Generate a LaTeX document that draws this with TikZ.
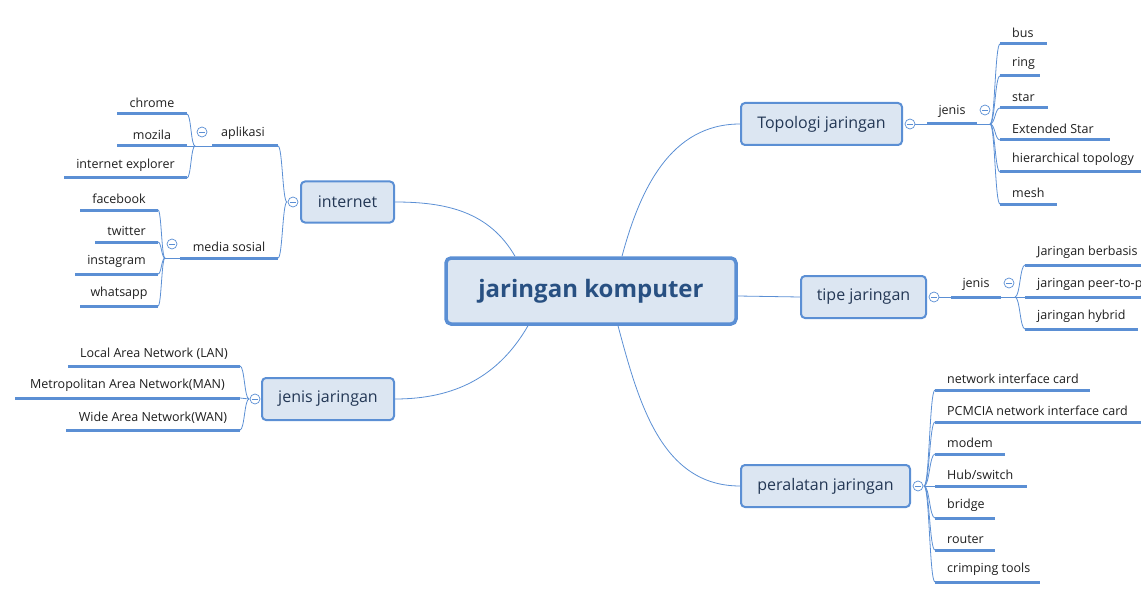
\documentclass[tikz,border=0pt]{standalone}
\usepackage{fontspec}
\setmainfont{Open Sans}
\usetikzlibrary{calc}
\definecolor{ln}{RGB}{91,143,212}
\definecolor{bx}{RGB}{220,230,242}
\definecolor{tx}{RGB}{30,30,30}
\definecolor{btx}{RGB}{35,55,85}
\definecolor{ctx}{RGB}{40,80,130}
\tikzset{
  conn/.style={draw=ln,line width=0.8pt},
  ul/.style={draw=ln,line width=3pt},
  lt/.style={font=\fontsize{12.5}{14}\selectfont,text=tx,inner sep=0pt},
  topic/.style={draw=ln,fill=bx,line width=2pt,rounded corners=4pt,font=\fontsize{16}{19}\selectfont,text=btx,inner sep=0pt},
  mn/.style={circle,draw=ln,fill=white,line width=0.7pt,minimum size=10pt,inner sep=0pt,
    path picture={\draw[ln,line width=0.7pt] ([xshift=-3pt]path picture bounding box.center)--([xshift=3pt]path picture bounding box.center);}},
}
\newcommand{\brc}[2]{\draw[conn] (#1) .. controls ($(#1)!0.5!(#1 -| #2)$) and ($(#2)!0.5!(#2 -| #1)$) .. (#2);}
\newcommand{\rleaf}[5]{\coordinate (#1) at (#2,#4); \draw[ul] (#2,#4)--(#3,#4); \node[lt,anchor=south west] (#1t) at (#2+12,#4-6) {#5};}
\newcommand{\lleaf}[5]{\coordinate (#1) at (#3,#4); \draw[ul] (#2,#4)--(#3,#4); \node[lt,anchor=south] (#1t) at ({(#2+#3)/2},#4-6) {#5};}
\begin{document}
\begin{tikzpicture}[x=1pt,y=-1pt]
\useasboundingbox (0,0) rectangle (1141,599);
\clip (0,0) rectangle (1141,599);
\node[draw=ln,fill=bx,line width=3.5pt,rounded corners=5pt,minimum width=290pt,minimum height=66pt,font=\fontsize{24}{28}\selectfont\bfseries,text=ctx] (c) at (591,291) {jaringan komputer};
\node[topic,minimum width=161pt,minimum height=42pt] (top) at (821.5,124) {Topologi jaringan};
\node[topic,minimum width=125pt,minimum height=42pt] (tip) at (863.5,297) {tipe jaringan};
\node[topic,minimum width=169pt,minimum height=42pt] (per) at (825.5,486) {peralatan jaringan};
\node[topic,minimum width=93pt,minimum height=41pt] (int) at (347.5,202) {internet};
\node[topic,minimum width=132pt,minimum height=42pt] (jj) at (328,399) {jenis jaringan};
\draw[conn] (c.north)++(31,0) coordinate (c1) (c1) to[out=75,in=180] (top.west);
\draw[conn] ([yshift=-5pt]c.east) -- (tip.west);
\draw[conn] (c.south)++(27,0) coordinate (c3) (c3) to[out=-75,in=180] (per.west);
\draw[conn] (c.north)++(-76,0) coordinate (c4) (c4) to[out=120,in=0] (int.east);
\draw[conn] (c.south)++(-63,0) coordinate (c5) (c5) to[out=-120,in=0] (jj.east);
\node[mn] (m1) at (910,124) {};
\draw[conn] (m1.east) -- (990,124) coordinate (b1);
\draw[ul] (927,124) -- (977,124);
\node[lt,anchor=south] (j1) at (952,118) {jenis};
\node[mn] (m1b) at (985,110) {};
\rleaf{t1}{1000}{1047}{44}{bus}
\rleaf{t2}{1000}{1040}{76}{ring}
\rleaf{t3}{1000}{1048}{108}{star}
\rleaf{t4}{1000}{1110}{140}{Extended Star}
\rleaf{t5}{1000}{1141}{172}{hierarchical topology}
\rleaf{t6}{1000}{1057}{204}{mesh}
\foreach \i in {1,...,6}{\brc{b1}{t\i}}
\node[mn] (m2) at (934,297) {};
\draw[conn] (m2.east) -- (1015,297) coordinate (b2);
\draw[ul] (951,297) -- (1001,297);
\node[lt,anchor=south] (j2) at (976,291) {jenis};
\node[mn] (m2b) at (1009,283) {};
\rleaf{p1}{1025}{1141}{265}{Jaringan berbasis server}
\rleaf{p2}{1025}{1141}{297}{jaringan peer-to-peer}
\rleaf{p3}{1025}{1138}{329}{jaringan hybrid}
\foreach \i in {1,2,3}{\brc{b2}{p\i}}
\node[mn] (m3) at (918,486) {};
\coordinate (b3) at (924,486);
\rleaf{q1}{935}{1090}{390}{network interface card}
\rleaf{q2}{935}{1141}{422}{PCMCIA network interface card}
\rleaf{q3}{935}{1005}{454}{modem}
\rleaf{q4}{935}{1027}{486}{Hub/switch}
\rleaf{q5}{935}{995}{518}{bridge}
\rleaf{q6}{935}{995}{550}{router}
\rleaf{q7}{935}{1040}{582}{crimping tools}
\foreach \i in {1,...,7}{\brc{b3}{q\i}}
\node[mn] (m4) at (293,202) {};
\coordinate (b4) at (287,202);
\coordinate (a1) at (278,146); \coordinate (a2) at (278,258);
\draw[ul] (212,146) -- (278,146); \node[lt,anchor=south] (a1t) at (243,140) {aplikasi};
\draw[ul] (180,258) -- (278,258); \node[lt,anchor=south] (a2t) at (229,252) {media sosial};
\brc{b4}{a1}\brc{b4}{a2}
\node[mn] (m5) at (202,132) {};
\draw[conn] (212,146) -- (195,146) coordinate (b5);
\lleaf{i1}{117}{187}{114}{chrome}
\lleaf{i2}{117}{187}{146}{mozila}
\lleaf{i3}{64}{187}{178}{internet explorer}
\foreach \i in {1,2,3}{\brc{b5}{i\i}}
\node[mn] (m6) at (172,244) {};
\draw[conn] (180,258) -- (165,258) coordinate (b6);
\lleaf{s1}{80}{158}{210}{facebook}
\lleaf{s2}{95}{158}{242}{twitter}
\lleaf{s3}{75}{158}{274}{instagram}
\lleaf{s4}{80}{158}{306}{whatsapp}
\foreach \i in {1,...,4}{\brc{b6}{s\i}}
\node[mn] (m7) at (255,399) {};
\coordinate (b7) at (249,399);
\lleaf{n1}{68}{240}{366}{Local Area Network (LAN)}
\lleaf{n2}{15}{240}{398}{Metropolitan Area Network(MAN)}
\lleaf{n3}{66}{240}{430}{Wide Area Network(WAN)}
\foreach \i in {1,2,3}{\brc{b7}{n\i}}
\end{tikzpicture}
\end{document}
